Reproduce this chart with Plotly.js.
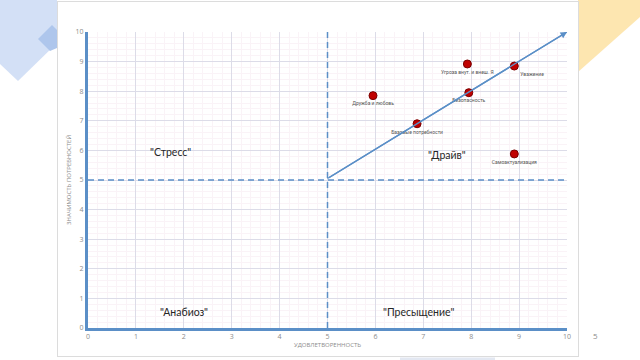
<!DOCTYPE html>
<html><head><meta charset="utf-8">
<script src="https://cdn.plot.ly/plotly-3.0.1.min.js"></script>
<style>
html,body{margin:0;padding:0;background:#fff;}
#wrap{position:relative;width:640px;height:360px;overflow:hidden;}
#bg{position:absolute;left:0;top:0;}
#chart{position:absolute;left:0;top:0;width:640px;height:360px;}
</style></head><body>
<div id="wrap">
<svg id="bg" width="640" height="360">
 <polygon points="0,0 57,0 57,43 18,81 0,64" fill="#d3e0f6"/>
 <polygon points="38,39 52,25 57,30 57,48 50,51" fill="#aec6ec"/>
 <polygon points="578,0 640,0 640,17 578,72" fill="#fde6b0"/>
 <rect x="57.5" y="1.5" width="521" height="355" fill="#fff" stroke="#dcdcdc"/>
 <rect x="400" y="357.5" width="95" height="2.5" fill="#e3e8f2"/>
</svg>
<div id="chart"></div>
</div>
<script>
// Needs (points)
const needNames = ['Дружба и любовь', 'Базовые потребности', 'Безопасность', 'Угроза внут. и внеш. Я', 'Уважение', 'Самоактуализация'];
const satisfaction = [5.95, 6.87, 7.95, 7.92, 8.9, 8.9];
const importance = [7.85, 6.9, 7.95, 8.92, 8.85, 5.88];
const labelPositions = ['bottom center', 'bottom center', 'bottom center', 'bottom center', 'bottom right', 'bottom center'];

// Quadrant labels
const quadrantNames = ['"Стресс"', '"Драйв"', '"Анабиоз"', '"Пресыщение"'];
const quadrantX = [1.72, 7.5, 2.0, 6.9];
const quadrantY = [5.95, 5.85, 0.55, 0.55];

// Divider lines and trend arrow
const vDividerX = [5, 5];
const vDividerY = [0, 10];
const hDividerX = [0, 10];
const hDividerY = [5, 5];
const trendX = [5, 10];
const trendY = [5.05, 10];

const tickVals = [0, 1, 2, 3, 4, 5, 6, 7, 8, 9, 10];
const xTitle = 'УДОВЛЕТВОРЕННОСТЬ';
const yTitle = 'ЗНАЧИМОСТЬ ПОТРЕБНОСТЕЙ';
const slideNumber = '5';

const blue = '#5b8fc7';

const traces = [
  {x: vDividerX, y: vDividerY, mode: 'lines', line: {color: blue, width: 1.5, dash: '6px,4px'}, hoverinfo: 'skip'},
  {x: hDividerX, y: hDividerY, mode: 'lines', line: {color: blue, width: 1.5, dash: '6px,4px'}, hoverinfo: 'skip'},
  {x: trendX, y: trendY, mode: 'lines', line: {color: blue, width: 1.3}, hoverinfo: 'skip'},
  {x: satisfaction, y: importance, text: needNames, mode: 'markers+text', textposition: labelPositions,
   textfont: {family: 'Roboto', size: 5, color: '#555555'},
   marker: {size: 8, color: '#c00000', line: {color: '#7a0000', width: 1}}}
];

const annotations = quadrantNames.map((t, i) => ({
  x: quadrantX[i], y: quadrantY[i], text: t, showarrow: false,
  font: {family: 'Lato', size: 10.5, color: '#262626'}
}));
annotations.push({
  x: trendX[1], y: trendY[1], ax: trendX[0], ay: trendY[0], axref: 'x', ayref: 'y',
  xref: 'x', yref: 'y', text: '', showarrow: true, arrowhead: 2, arrowsize: 1, arrowwidth: 1.3, arrowcolor: blue
});
annotations.push({
  xref: 'paper', yref: 'paper', x: 1.069, y: -0.05, text: slideNumber, showarrow: false,
  font: {family: 'Open Sans', size: 8, color: '#8c8c8c'}
});

const axisCommon = {
  range: [0, 10], tickvals: tickVals, ticks: '', zeroline: false,
  showline: true, linecolor: blue, linewidth: 3,
  showgrid: true, gridcolor: '#dcdce8', gridwidth: 1,
  minor: {dtick: 0.2, showgrid: true, gridcolor: '#faf3f7', gridwidth: 1},
  tickfont: {family: 'Open Sans', size: 7, color: '#8c8c8c'},
  fixedrange: true
};

const layout = {
  width: 640, height: 360,
  margin: {l: 88, r: 73, t: 32, b: 32},
  paper_bgcolor: 'rgba(0,0,0,0)', plot_bgcolor: 'rgba(0,0,0,0)',
  showlegend: false,
  xaxis: Object.assign({}, axisCommon, {title: {text: xTitle, font: {family: 'Open Sans', size: 6, color: '#8c8c8c'}, standoff: 2}}),
  yaxis: Object.assign({}, axisCommon, {title: {text: yTitle, font: {family: 'Open Sans', size: 6, color: '#8c8c8c'}, standoff: 4}}),
  annotations: annotations
};

Plotly.newPlot('chart', traces, layout, {displayModeBar: false, staticPlot: true});
</script>
</body></html>
